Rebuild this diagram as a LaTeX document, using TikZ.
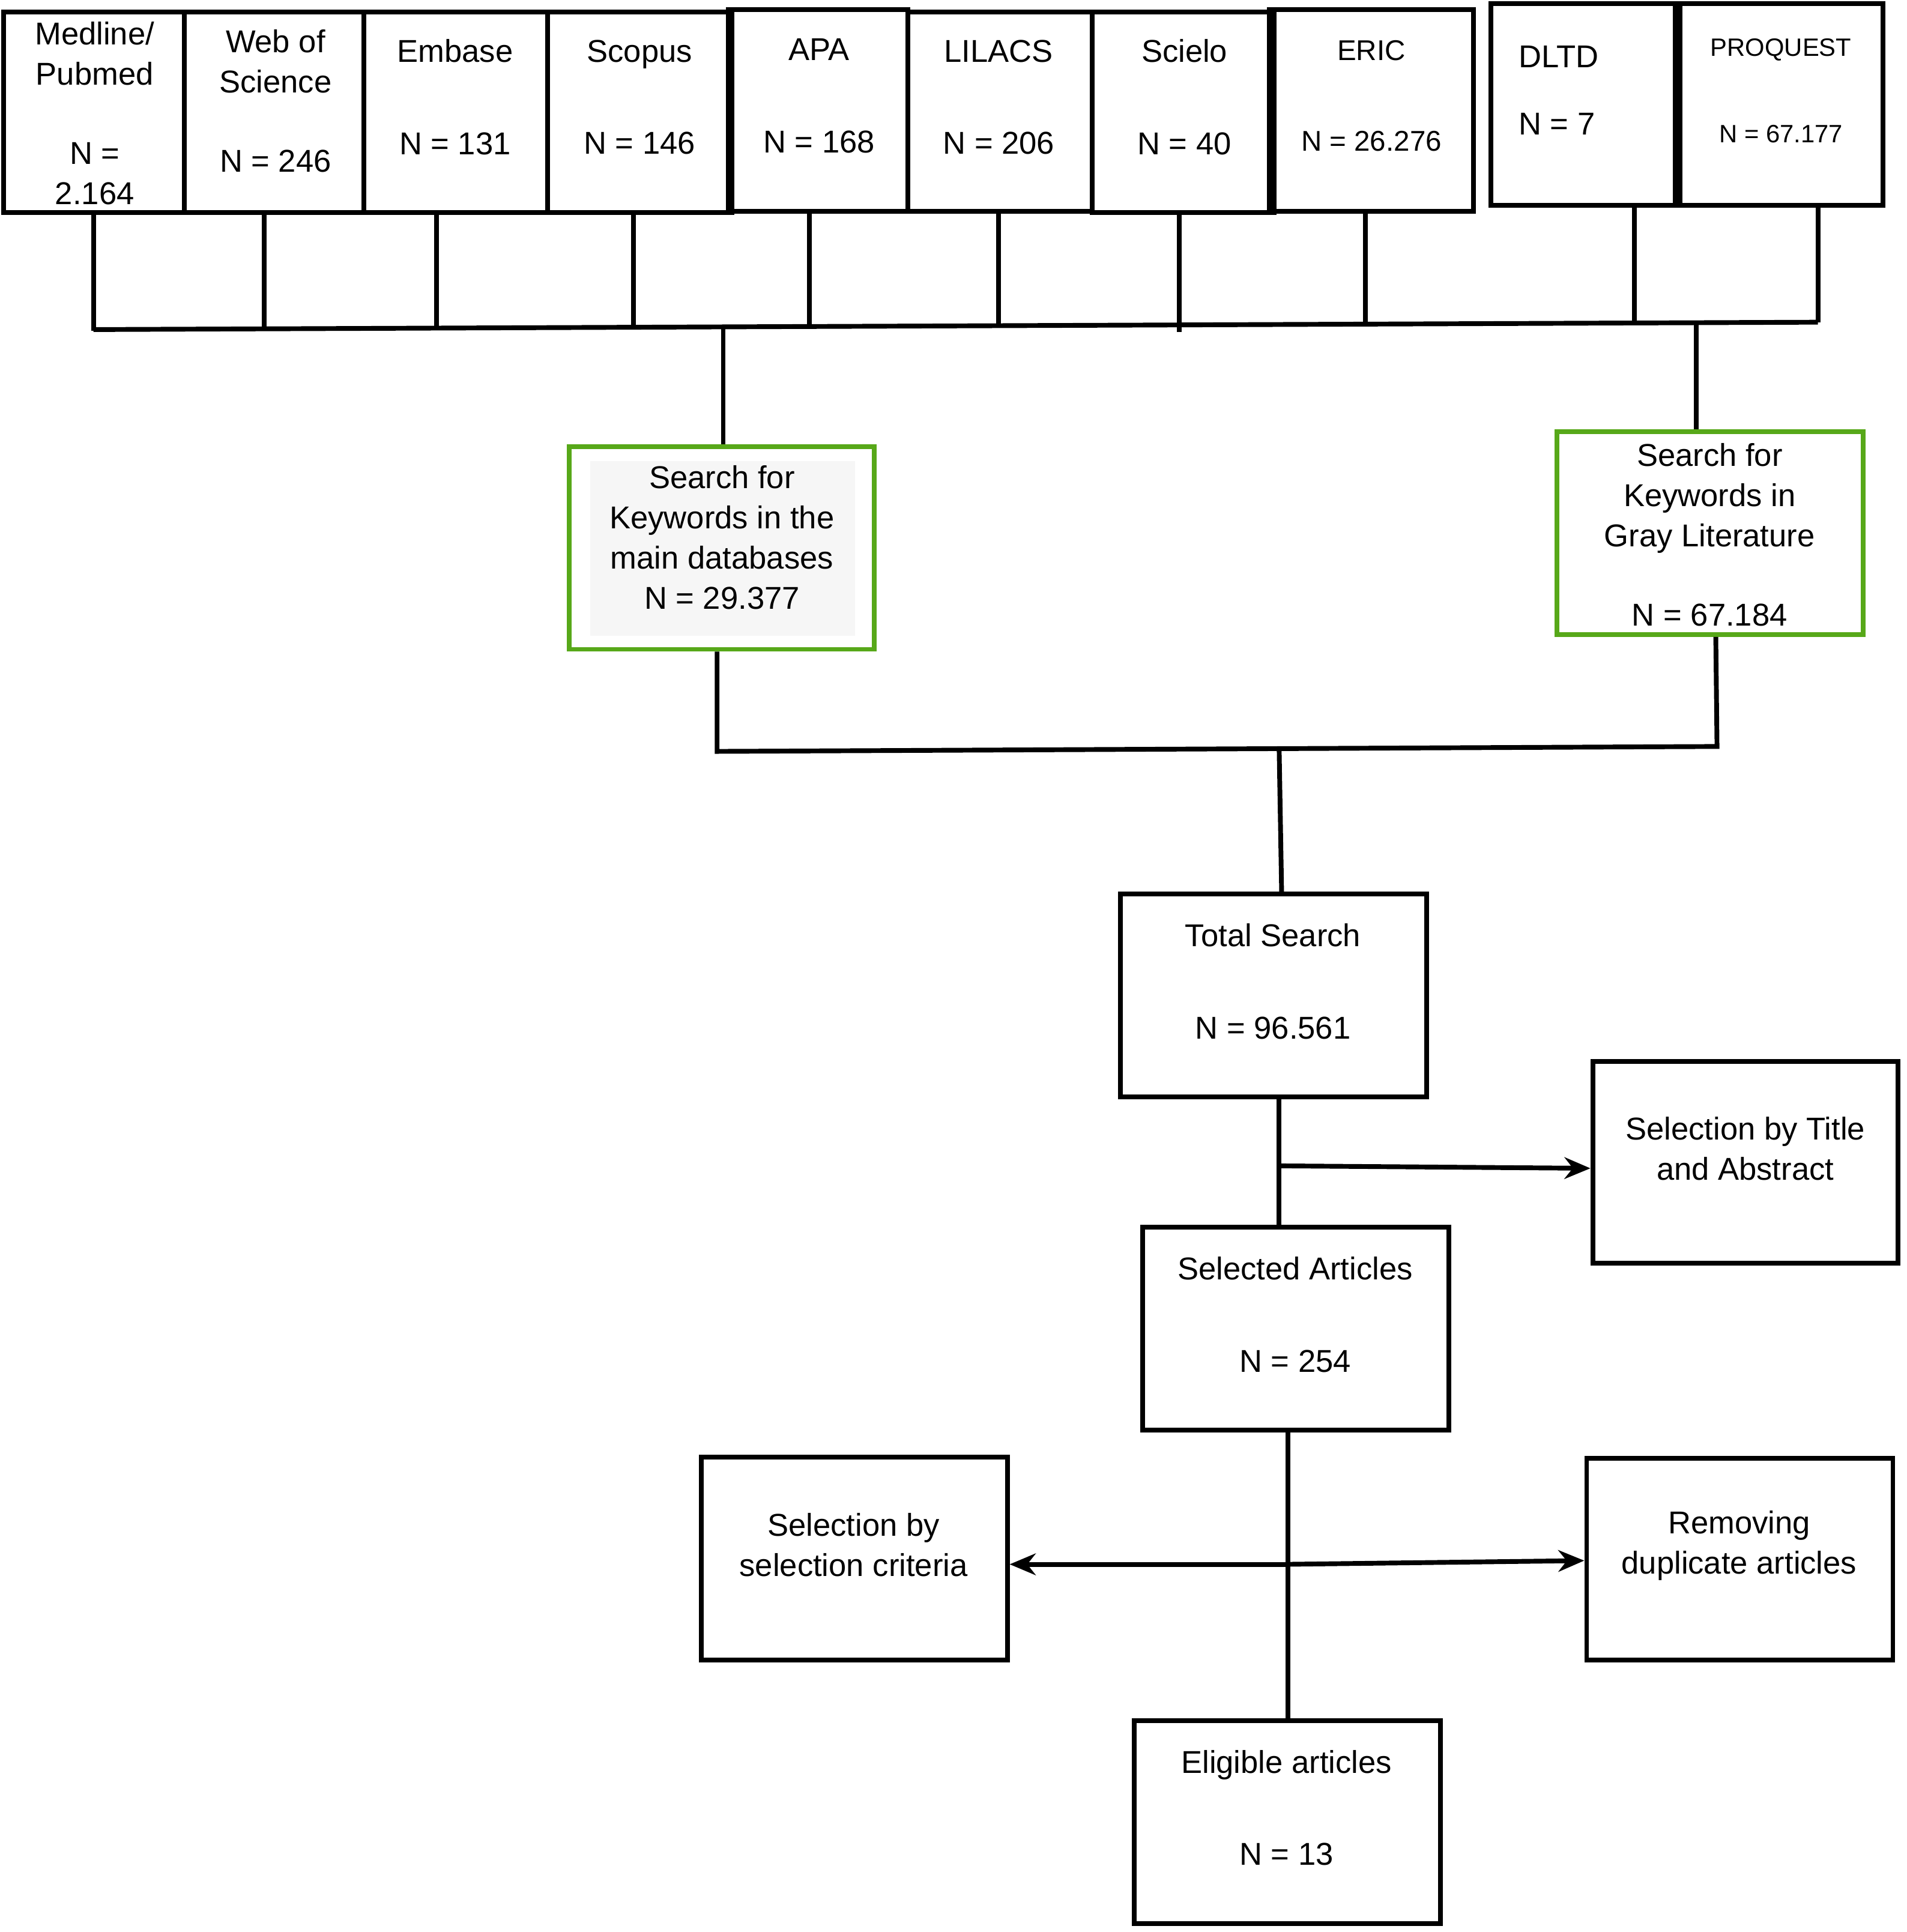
\documentclass[tikz,border=0pt]{standalone}
\usepackage{fontspec}
\setmainfont{Liberation Sans}
\usetikzlibrary{arrows.meta}
\begin{document}
\begin{tikzpicture}[x=0.01cm,y=-0.01cm,
  box/.style={draw,line width=1.1pt,align=center,font=\fontsize{7.3}{9.3}\selectfont,inner sep=0pt},
  gbox/.style={box,draw=green!50!black!60!lime!80!gray},
  ln/.style={line width=1.1pt},
  ar/.style={ln,-{Stealth[length=6pt,width=5pt]}}]
\useasboundingbox (0,0) rectangle (1550,1571);
\newcommand{\bx}[6]{\node[#6,minimum width={(#4-#2)*0.01cm},minimum height={(#5-#3)*0.01cm}] (#1) at ({(#2+#4)/2},{(#3+#5)/2}) {};}
% top row
\bx{med}{3}{10}{150}{173}{box}
\bx{wos}{150}{10}{296}{173}{box}
\bx{emb}{296}{10}{445}{173}{box}
\bx{sco}{445}{10}{595}{173}{box}
\bx{apa}{592}{8}{738}{172}{box}
\bx{lil}{738}{10}{888}{172}{box}
\bx{sci}{888}{10}{1036}{173}{box}
\bx{eri}{1032}{8}{1198}{172}{box}
\bx{dlt}{1212}{3}{1362}{167}{box}
\bx{pro}{1366}{3}{1531}{167}{box}
\tikzset{t/.style={align=center,font=\fontsize{7.3}{9.3}\selectfont,inner sep=0pt}}
\node[t] (tmed) at (77,92) {Medline/\\Pubmed\\[9pt]N =\\2.164};
\node[t] (twos) at (224,82) {Web of\\Science\\[9pt]N = 246};
\node[t] (temb) at (370,79) {Embase\\[12pt]N = 131};
\node[t] (tsco) at (520,79) {Scopus\\[12pt]N = 146};
\node[t] (tapa) at (666,78) {APA\\[12pt]N = 168};
\node[t] (tlil) at (812,79) {LILACS\\[12pt]N = 206};
\node[t] (tsci) at (963,79) {Scielo\\[12pt]N = 40};
\node[t,font=\fontsize{6.6}{9}\selectfont] (teri) at (1115,78) {ERIC\\[12pt]N = 26.276};
\node[t,anchor=west] (tdlt) at (1234,46) {DLTD};
\node[t,anchor=west] (tdlt2) at (1234,101) {N = 7};
\node[t,font=\fontsize{5.8}{8}\selectfont] (tpro) at (1448,74) {PROQUEST\\[12pt]N = 67.177};
% bus
\coordinate (bl) at (76,268); \coordinate (br) at (1478,262);
\draw[ln] (bl) -- (br);
\foreach \n/\x/\y in {med/76/269,wos/215/269,emb/355/268,sco/515/268,apa/658/267,lil/812/266,sci/959/270,eri/1110/264,dlt/1329/262,pro/1478/262}
  \draw[ln] (\n.south -| \x,0) -- (\x,\y);
% green boxes
\fill[gray!7] (480,375) rectangle (695,517);
\bx{g1}{463}{363}{711}{528}{gbox}
\bx{g2}{1266}{351}{1515}{516}{gbox}
\node[t] at (587,437) {Search for\\Keywords in the\\main databases\\N = 29.377};
\node[t] at (1390,435) {Search for\\Keywords in\\Gray Literature\\[9pt]N = 67.184};
\draw[ln] (588,267) -- (g1.north -| 588,0);
\draw[ln] (1379,262) -- (g2.north -| 1379,0);
\coordinate (ml) at (583,611); \coordinate (mr) at (1396,607);
\draw[ln] (g1.south -| 583,0) -- (ml) -- (mr) -- (g2.south -| 1395,0);
\bx{tot}{911}{727}{1160}{892}{box}
\node[t] at (1035,798) {Total Search\\[12pt]N = 96.561};
\draw[ln] (1040,609) -- (tot.north -| 1042,0);
\bx{sta}{1295}{863}{1543}{1027}{box}
\node[t] at (1419,934) {Selection by Title\\and Abstract};
\bx{sel}{929}{998}{1178}{1163}{box}
\node[t] at (1053,1069) {Selected Articles\\[12pt]N = 254};
\draw[ln] (tot.south -| 1040,0) -- (sel.north -| 1040,0);
\draw[ar] (1040,948) -- (sta.west |- 0,950);
\bx{crit}{570}{1185}{819}{1350}{box}
\node[t] at (694,1256) {Selection by\\selection criteria};
\bx{dup}{1290}{1186}{1539}{1350}{box}
\node[t] at (1414,1257) {Removing\\duplicate articles};
\bx{eli}{922}{1399}{1171}{1564}{box}
\node[t] at (1046,1470) {Eligible articles\\[12pt]N = 13};
\draw[ln] (sel.south -| 1047,0) -- (eli.north -| 1047,0);
\draw[ar] (1047,1272) -- (crit.east |- 0,1272);
\draw[ar] (1047,1272) -- (dup.west |- 0,1269);
\end{tikzpicture}
\end{document}
